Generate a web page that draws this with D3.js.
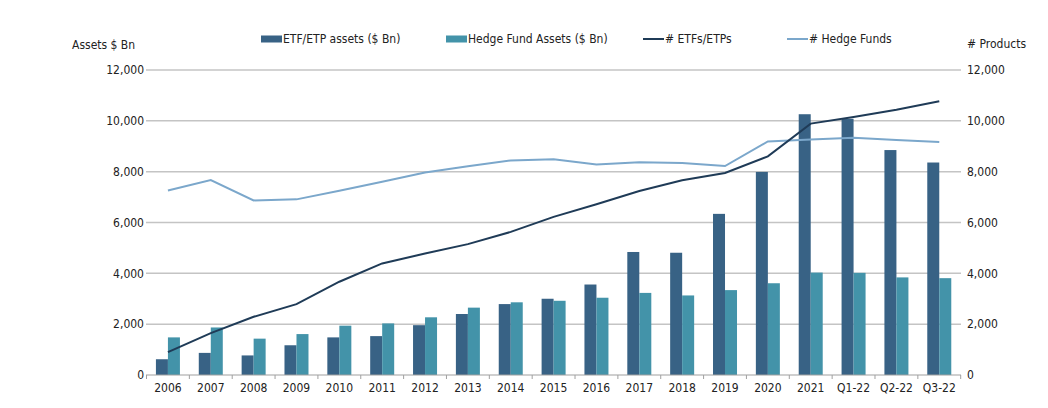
<!DOCTYPE html>
<html>
<head>
<meta charset="utf-8">
<script src="https://cdn.jsdelivr.net/npm/d3@7"></script>
<style>
  body { margin: 0; background: #fff; }
  svg text { font-family: "DejaVu Sans Condensed", "DejaVu Sans", sans-serif; font-size: 12px; fill: #222; }
</style>
</head>
<body>
<script>
// Data
const categories = ['2006', '2007', '2008', '2009', '2010', '2011', '2012', '2013', '2014', '2015',
  '2016', '2017', '2018', '2019', '2020', '2021', 'Q1-22', 'Q2-22', 'Q3-22'];
const etfAssets = [620, 870, 770, 1170, 1480, 1530, 1960, 2400, 2790, 3000,
  3560, 4840, 4810, 6340, 7990, 10260, 10080, 8850, 8360];
const hedgeAssets = [1480, 1870, 1430, 1610, 1940, 2030, 2270, 2650, 2860, 2920,
  3040, 3230, 3130, 3340, 3610, 4030, 4020, 3840, 3810];
const etfCount = [900, 1650, 2290, 2790, 3670, 4390, 4780, 5150, 5630, 6220,
  6720, 7240, 7660, 7950, 8600, 9890, 10150, 10440, 10770];
const hedgeCount = [7260, 7670, 6870, 6910, 7250, 7600, 7970, 8210, 8440, 8490,
  8280, 8370, 8340, 8220, 9190, 9270, 9330, 9250, 9170];
const yTicks = [0, 2000, 4000, 6000, 8000, 10000, 12000];

const width = 1048;
const height = 408;
const colEtf = '#386285';
const colHedge = '#4393a9';
const colEtfLine = '#1f3b57';
const colHedgeLine = '#7ba7cb';

const svg = d3.select('body')
  .append('svg')
  .attr('width', width)
  .attr('height', height);

// Scales
const x = d3.scaleBand()
  .domain(categories)
  .range([146.5, 960.7]);

const yLeft = d3.scaleLinear().domain([0, 12000]).range([375, 70]);
const yRight = d3.scaleLinear().domain([0, 12000]).range([375, 70]);

const fmt = d3.format(',');

// Gridlines
svg.append('g')
  .selectAll('line')
  .data(yTicks.filter(d => d > 0))
  .enter()
  .append('line')
  .attr('x1', 146)
  .attr('x2', 961)
  .attr('y1', d => yLeft(d))
  .attr('y2', d => yLeft(d))
  .attr('stroke', '#c4c4c4')
  .attr('stroke-width', 1.5);

// Left axis labels
svg.append('g')
  .selectAll('text')
  .data(yTicks)
  .enter()
  .append('text')
  .attr('x', 144)
  .attr('y', d => yLeft(d))
  .attr('dy', '.35em')
  .attr('text-anchor', 'end')
  .text(d => fmt(d));

// Right axis labels
svg.append('g')
  .selectAll('text')
  .data(yTicks)
  .enter()
  .append('text')
  .attr('x', 967)
  .attr('y', d => yRight(d))
  .attr('dy', '.35em')
  .text(d => fmt(d));

// Bars
const bw = 12;
const group = svg.append('g')
  .selectAll('g')
  .data(categories)
  .enter()
  .append('g')
  .attr('transform', d => `translate(${x(d) + x.bandwidth() / 2}, 0)`);

group.append('rect')
  .attr('x', -bw)
  .attr('width', bw)
  .attr('y', (d, i) => yLeft(etfAssets[i]))
  .attr('height', (d, i) => yLeft(0) - yLeft(etfAssets[i]))
  .attr('fill', colEtf);

group.append('rect')
  .attr('x', 0)
  .attr('width', bw)
  .attr('y', (d, i) => yLeft(hedgeAssets[i]))
  .attr('height', (d, i) => yLeft(0) - yLeft(hedgeAssets[i]))
  .attr('fill', colHedge);

// Bottom axis
const xAxis = svg.append('g')
  .attr('transform', `translate(0, ${yLeft(0)})`);
xAxis.append('line')
  .attr('x1', 146)
  .attr('x2', 961)
  .attr('stroke', '#a0a0a0')
  .attr('stroke-width', 1.2);
xAxis.selectAll('.tick')
  .data(categories.concat(['end']))
  .enter()
  .append('line')
  .attr('x1', (d, i) => 146.5 + i * x.step())
  .attr('x2', (d, i) => 146.5 + i * x.step())
  .attr('y1', 0)
  .attr('y2', 4)
  .attr('stroke', '#a0a0a0');
xAxis.selectAll('text')
  .data(categories)
  .enter()
  .append('text')
  .attr('x', d => x(d) + x.bandwidth() / 2)
  .attr('y', 17)
  .attr('text-anchor', 'middle')
  .text(d => d);

// Lines
const line = vals => d3.line()
  .x((d, i) => x(categories[i]) + x.bandwidth() / 2)
  .y(d => yRight(d))(vals);

svg.append('path')
  .attr('d', line(hedgeCount))
  .attr('fill', 'none')
  .attr('stroke', colHedgeLine)
  .attr('stroke-width', 2);

svg.append('path')
  .attr('d', line(etfCount))
  .attr('fill', 'none')
  .attr('stroke', colEtfLine)
  .attr('stroke-width', 2);

// Axis titles
svg.append('text').attr('x', 72).attr('y', 49).text('Assets $ Bn');
svg.append('text').attr('x', 967).attr('y', 48).text('# Products');

// Legend
const legend = [
  { label: 'ETF/ETP assets ($ Bn)', color: colEtf, type: 'bar', x: 261 },
  { label: 'Hedge Fund Assets ($ Bn)', color: colHedge, type: 'bar', x: 446 },
  { label: '# ETFs/ETPs', color: colEtfLine, type: 'line', x: 643 },
  { label: '# Hedge Funds', color: colHedgeLine, type: 'line', x: 787 }
];
const lg = svg.append('g')
  .selectAll('g')
  .data(legend)
  .enter()
  .append('g')
  .attr('transform', d => `translate(${d.x}, 39)`);
lg.filter(d => d.type === 'bar')
  .append('rect')
  .attr('y', -3.5)
  .attr('width', 21)
  .attr('height', 7)
  .attr('fill', d => d.color);
lg.filter(d => d.type === 'line')
  .append('line')
  .attr('x2', 21)
  .attr('stroke', d => d.color)
  .attr('stroke-width', 2);
lg.append('text')
  .attr('x', 22)
  .attr('dy', '.35em')
  .text(d => d.label);
</script>
</body>
</html>
